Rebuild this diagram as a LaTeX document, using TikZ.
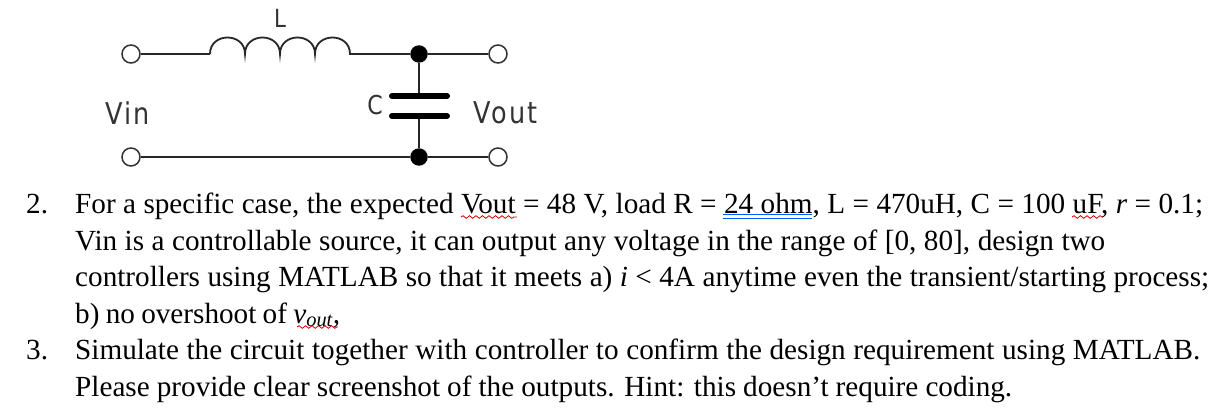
\documentclass[tikz,border=0pt]{standalone}
\usepackage{fontspec}
\setmainfont{Liberation Serif}
\newfontfamily\cktfont{DejaVu Sans}[LetterSpace=7,FakeStretch=0.85]
\usetikzlibrary{decorations.pathmorphing}
\tikzset{
  x=1pt,y=-1pt,
  wire/.style={line width=1.8pt,draw=black!85},
  term/.style={circle,draw=black!80,fill=white,line width=1.5pt,minimum size=18pt,inner sep=0pt},
  dot/.style={circle,fill=black,minimum size=17.5pt,inner sep=0pt},
  plate/.style={line width=6pt,line cap=round,draw=black},
  ckt/.style={inner sep=0pt,font=\fontsize{30}{35}\selectfont\cktfont,text=black!80},
  para/.style={anchor=base west,inner sep=0pt,font=\fontsize{29.2}{35}\selectfont,text=black},
  redsq/.style={draw=red!85!black,line width=0.8pt,decorate,decoration={snake,amplitude=1.3pt,segment length=6.5pt}},
  blueline/.style={draw=blue!65!cyan,line width=1pt}
}
\newcommand{\tline}[2]{\makebox[#1pt][s]{#2}}
\begin{document}
\begin{tikzpicture}
\useasboundingbox (0,0) rectangle (1218,420);
\fill[white] (0,0) rectangle (1218,420);
% circuit
\node[term] (inA) at (131,54) {};
\node[term] (inB) at (131,157) {};
\node[term] (outA) at (498,54) {};
\node[term] (outB) at (498,157) {};
\node[dot] (top) at (419,54) {};
\node[dot] (bot) at (419,157) {};
\coordinate (Ls) at (210,54);
\coordinate (Le) at (350,54);
\coordinate (Cu) at (419,96);
\coordinate (Cl) at (419,116);
\coordinate (CuL) at (392,96);
\coordinate (CuR) at (447,96);
\coordinate (ClL) at (392,116);
\coordinate (ClR) at (447,116);
\draw[wire] (inA) -- (Ls);
\draw[wire] (Ls) .. controls (210,32) and (245,32) .. (245,54)
  .. controls (245,32) and (280,32) .. (280,54)
  .. controls (280,32) and (315,32) .. (315,54)
  .. controls (315,32) and (350,32) .. (350,54) -- (top);
\draw[wire] (top) -- (outA);
\draw[wire] (inB) -- (bot);
\draw[wire] (bot) -- (outB);
\draw[wire] (top) -- (Cu);
\draw[wire] (Cl) -- (bot);
\draw[plate] (CuL) -- (CuR);
\draw[plate] (ClL) -- (ClR);
\node[ckt] (lL) at (280,18) {\fontsize{25}{29}\selectfont L};
\node[ckt] (lC) at (375,105) {\fontsize{26}{30}\selectfont C};
\node[ckt] (lVin) at (128,113) {Vin};
\node[ckt] (lVout) at (505.5,113) {Vout};
% text
\node[para] (n2) at (26,213.5) {2.};
\node[para] (t1) at (75,213.5) {\tline{1128}{For a specific case, the expected Vout = 48 V, load R = 24 ohm, L = 470uH, C = 100 uF, \textit{r} = 0.1;}};
\node[para] (t2) at (75,250) {\tline{1030}{Vin is a controllable source, it can output any voltage in the range of [0, 80], design two}};
\node[para] (t3) at (75,286) {\tline{1134}{controllers using MATLAB so that it meets a) \textit{i} < 4A anytime even the transient/starting process;}};
\node[para] (t4) at (75,323) {\tline{265}{b) no overshoot of \textit{v\textsubscript{out},}}};
\node[para] (n3) at (26,359) {3.};
\node[para] (t5) at (75,359) {\tline{1125}{Simulate the circuit together with controller to confirm the design requirement using MATLAB.}};
\node[para] (t6) at (75,396) {\tline{937}{Please provide clear screenshot of the outputs. Hint: this doesn’t require coding.}};
% proofing marks
\coordinate (r1a) at (461,217); \coordinate (r1b) at (517,217);
\coordinate (r2a) at (1072,217); \coordinate (r2b) at (1103,217);
\coordinate (r3a) at (297,327); \coordinate (r3b) at (338,327);
\coordinate (b1a) at (723,214.5); \coordinate (b1b) at (812,214.5);
\coordinate (b2a) at (723,218); \coordinate (b2b) at (812,218);
\draw[redsq] (r1a) -- (r1b);
\draw[redsq] (r2a) -- (r2b);
\draw[redsq] (r3a) -- (r3b);
\draw[blueline] (b1a) -- (b1b);
\draw[blueline] (b2a) -- (b2b);
\end{tikzpicture}
\end{document}
